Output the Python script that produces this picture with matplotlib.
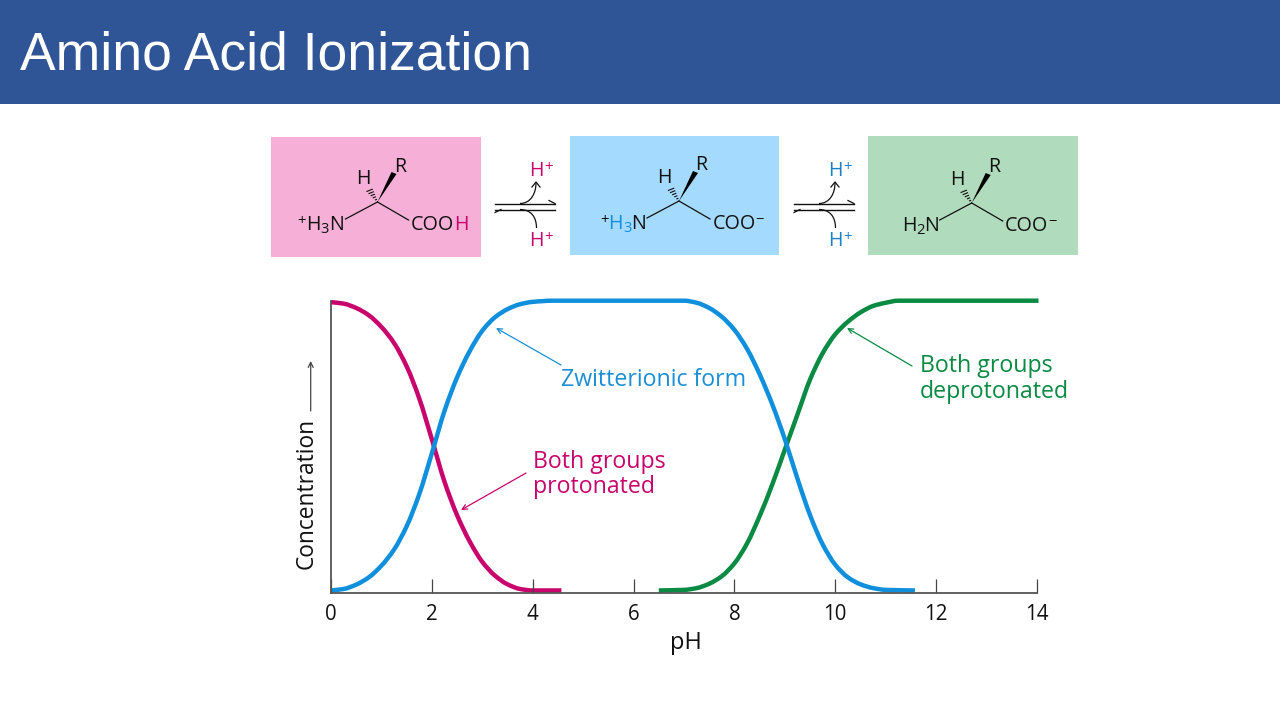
import matplotlib

matplotlib.use("Agg")
import matplotlib.pyplot as plt
from matplotlib.patches import PathPatch, Polygon, Rectangle
from matplotlib.path import Path

plt.rcParams["font.family"] = ["Open Sans", "DejaVu Sans"]

TITLE = "Amino Acid Ionization"
X_TICKS = [0, 2, 4, 6, 8, 10, 12, 14]

# courbes (pH, concentration relative)
protonated_ph = [0, .25, .5, .75, 1, 1.25, 1.5, 1.75, 2, 2.25, 2.5, 2.75, 3, 3.25,
                 3.5, 3.75, 4, 4.57]
protonated_c = [.995, .99, .975, .95, .91, .855, .775, .665, .525, .38, .265, .175,
                .105, .058, .028, .012, .007, .007]

zwitter_ph = [0, .25, .5, .75, 1, 1.25, 1.5, 1.75, 2, 2.25, 2.5, 2.75, 3, 3.25,
              3.5, 3.75, 4, 4.4,
              7, 7.25, 7.5, 7.75, 8, 8.25, 8.5, 8.75, 9, 9.25, 9.5, 9.75, 10, 10.25,
              10.5, 10.75, 11, 11.58]
zwitter_c = [.007, .012, .027, .052, .092, .147, .227, .337, .477, .622, .737, .827,
             .897, .943, .971, .988, .996, 1.0,
             1.0, .993, .975, .945, .900, .835, .748, .645, .525, .39, .265, .165,
             .095, .052, .028, .015, .009, .007]

deprotonated_ph = [6.5, 7, 7.25, 7.5, 7.75, 8, 8.25, 8.5, 8.75, 9, 9.25, 9.5, 9.75,
                   10, 10.25, 10.5, 10.75, 11, 11.25, 14.03]
deprotonated_c = [.007, .009, .015, .03, .056, .1, .168, .262, .37, .49, .61, .73,
                  .82, .885, .928, .96, .982, .993, 1.0, 1.0]

MAGENTA = "#c8056c"
BLUE = "#0f8fdc"
GREEN = "#0a8a42"
INK = "#111111"
FS = 14.2
LABEL_FS = 16.7


def smooth_path(xs, ys):
    # courbe de Bezier passant par les points lus (pentes a la PCHIP)
    d = [(ys[i + 1] - ys[i]) / (xs[i + 1] - xs[i]) for i in range(len(xs) - 1)]
    m = [d[0]]
    for a, b in zip(d[:-1], d[1:]):
        m.append(0 if a * b <= 0 else 2 * a * b / (a + b))
    m.append(d[-1])
    verts, codes = [(xs[0], ys[0])], [Path.MOVETO]
    for i in range(len(xs) - 1):
        h = (xs[i + 1] - xs[i]) / 3
        verts += [(xs[i] + h, ys[i] + m[i] * h), (xs[i + 1] - h, ys[i + 1] - m[i + 1] * h),
                  (xs[i + 1], ys[i + 1])]
        codes += [Path.CURVE4] * 3
    return Path(verts, codes)


def pieces(back, x, y, parts, renderer):
    # texte multicolore, avec indices et exposants
    for s, col, scale, dy in parts:
        t = back.text(x, y - dy, s, color=col, fontsize=FS * scale, va="baseline", ha="left")
        x = t.get_window_extent(renderer).x1


def structure(back, cx, cy, left, right, renderer):
    back.plot([cx, cx - 32], [cy, cy + 17], color=INK, lw=0.9)
    back.plot([cx, cx + 31], [cy, cy + 18], color=INK, lw=0.9)
    back.add_patch(Polygon([(cx, cy), (cx + 14, cy - 30), (cx + 19, cy - 28)], color="#000000", lw=0))
    for i in range(1, 6):
        f = i / 6
        hx, hy = cx - 9.5 * f, cy - 14 * f
        w = 3.2 * f
        back.plot([hx - w, hx + w], [hy + w * .4, hy - w * .4], color=INK, lw=0.8)
    back.text(cx - 14.5, cy - 18, "H", color=INK, fontsize=FS, ha="center", va="baseline")
    back.text(cx + 22.5, cy - 30.5, "R", color=INK, fontsize=FS, ha="center", va="baseline")
    pieces(back, cx + left, cy + 28, right[0], renderer)
    pieces(back, cx + 33.5, cy + 28, right[1], renderer)


def equilibrium(back, x0, color, renderer):
    top, bottom = 203.5, 209.5
    back.plot([x0, x0 + 60], [top, top], color=INK, lw=1.0)
    back.plot([x0 + 54, x0 + 60], [top - 3, top], color=INK, lw=0.9)
    back.plot([x0, x0 + 60], [bottom, bottom], color=INK, lw=1.0)
    back.plot([x0, x0 + 6], [bottom + 3, bottom], color=INK, lw=0.9)
    up = Path([(x0 + 25, top), (x0 + 36, top), (x0 + 41, 193), (x0 + 41, 183)],
              [Path.MOVETO, Path.CURVE4, Path.CURVE4, Path.CURVE4])
    back.add_patch(PathPatch(up, fill=False, ec=INK, lw=0.9))
    back.plot([x0 + 37, x0 + 41, x0 + 45], [187, 182, 187], color=INK, lw=0.9)
    down = Path([(x0 + 25, bottom), (x0 + 36, bottom), (x0 + 41.5, 217), (x0 + 41.5, 228)],
                [Path.MOVETO, Path.CURVE4, Path.CURVE4, Path.CURVE4])
    back.add_patch(PathPatch(down, fill=False, ec=INK, lw=0.9))
    for y in (176, 246):
        pieces(back, x0 + 34.5, y, [("H", color, 1, 0), ("+", color, .75, 5)], renderer)


def main():
    fig = plt.figure(figsize=(12.8, 7.2), dpi=100, facecolor="white")
    renderer = fig.canvas.get_renderer()

    # fond en coordonnees pixel : bandeau, encadres, formules
    back = fig.add_axes([0, 0, 1, 1])
    back.set_xlim(0, 1280)
    back.set_ylim(720, 0)
    back.axis("off")
    back.add_patch(Rectangle((0, 0), 1280, 104, color="#2f5597", lw=0))
    back.text(20.5, 69.5, TITLE, color="white", fontsize=38.5, family="Liberation Sans", va="baseline")
    back.add_patch(Rectangle((271, 137), 210, 120, color="#f6afd6", lw=0))
    back.add_patch(Rectangle((570, 136), 209, 119, color="#a4dafe", lw=0))
    back.add_patch(Rectangle((868, 136), 210, 119, color="#b1dbbd", lw=0))

    structure(back, 377.5, 202, -80, (
        [("+", INK, .75, 5), ("H", INK, 1, 0), ("3", INK, .75, -3), ("N", INK, 1, 0)],
        [("COO", INK, 1, 0), ("H", MAGENTA, 1, 0)]), renderer)
    structure(back, 679, 201, -79, (
        [("+", INK, .75, 5), ("H", BLUE, 1, 0), ("3", BLUE, .75, -3), ("N", INK, 1, 0)],
        [("COO", INK, 1, 0), ("\u2212", INK, .75, 5)]), renderer)
    structure(back, 971.7, 203, -70, (
        [("H", INK, 1, 0), ("2", INK, .75, -3), ("N", INK, 1, 0)],
        [("COO", INK, 1, 0), ("\u2212", INK, .75, 5)]), renderer)
    equilibrium(back, 495, MAGENTA, renderer)
    equilibrium(back, 794, "#1c80c8", renderer)

    # courbes
    ax = fig.add_axes([331 / 1280, (720 - 592.5) / 720, 706 / 1280, 291.8 / 720])
    ax.patch.set_alpha(0)
    ax.set_xlim(0, 14)
    ax.set_ylim(0, 1)
    for ph, c, col in [(protonated_ph, protonated_c, MAGENTA),
                       (deprotonated_ph, deprotonated_c, GREEN),
                       (zwitter_ph, zwitter_c, BLUE)]:
        ax.add_patch(PathPatch(smooth_path(ph, c), fill=False, ec=col, lw=3.2,
                               clip_on=False, capstyle="butt"))
    ax.spines["top"].set_visible(False)
    ax.spines["right"].set_visible(False)
    for side in ("left", "bottom"):
        ax.spines[side].set_color("#555555")
        ax.spines[side].set_linewidth(1.3)
    ax.set_xticks(X_TICKS)
    ax.set_yticks([])
    ax.tick_params(axis="x", direction="in", length=10, width=0.9, color="#444444",
                   labelsize=FS + 0.6, labelcolor=INK, pad=8.5)

    back.text(686, 643, "pH", color=INK, fontsize=17, ha="center", va="center")
    back.text(307, 493.5, "Concentration", color=INK, fontsize=16.4, rotation=90,
              ha="center", va="center")
    back.annotate("", xy=(310.7, 361), xytext=(310.7, 411),
                  arrowprops=dict(arrowstyle="->", color="#444444", lw=0.9,
                                  shrinkA=0, shrinkB=0, mutation_scale=9))

    # etiquettes et fleches
    back.text(561, 386, "Zwitterionic form", color="#1a8fd3", fontsize=LABEL_FS, va="baseline")
    back.text(533, 467.5, "Both groups", color=MAGENTA, fontsize=LABEL_FS, va="baseline")
    back.text(533, 493, "protonated", color=MAGENTA, fontsize=LABEL_FS, va="baseline")
    back.text(920, 372.5, "Both groups", color=GREEN, fontsize=LABEL_FS, va="baseline")
    back.text(920, 398, "deprotonated", color=GREEN, fontsize=LABEL_FS, va="baseline")
    for tip, tail, col in [((496, 328), (561, 365), "#1a8fd3"),
                           ((461, 510), (526, 473), MAGENTA),
                           ((847, 328), (912, 366), GREEN)]:
        back.annotate("", xy=tip, xytext=tail,
                      arrowprops=dict(arrowstyle="->", color=col, lw=0.9,
                                      shrinkA=0, shrinkB=0, mutation_scale=9))

    fig.savefig("out.png", dpi=100)


if __name__ == "__main__":
    main()
